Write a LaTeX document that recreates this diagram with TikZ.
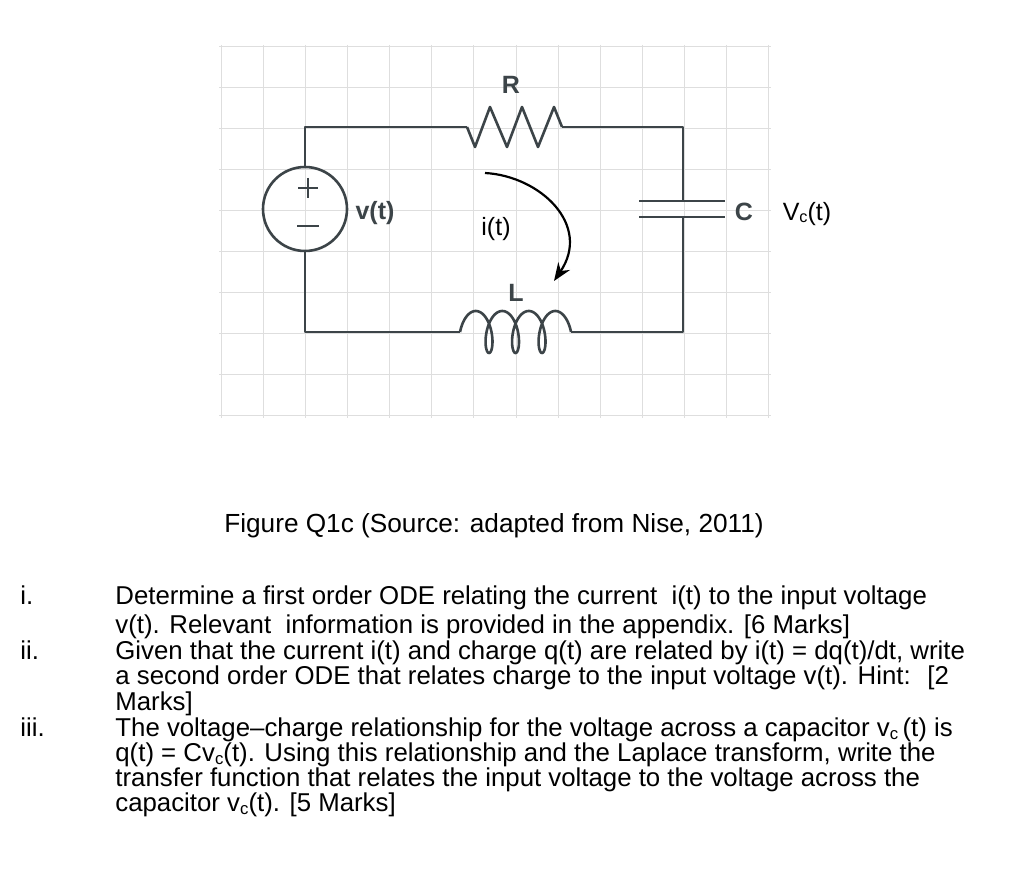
\documentclass[tikz,border=0pt]{standalone}
\usepackage{fontspec}
\setmainfont{Liberation Sans}
\usetikzlibrary{arrows.meta}
\definecolor{wire}{HTML}{3C4448}
\definecolor{gridc}{HTML}{DEDEDE}
\newcommand{\subc}{\raisebox{-0.15ex}{\scalebox{0.65}{c}}}
\begin{document}
\begin{tikzpicture}[x=0.5pt,y=-0.5pt,
  wirest/.style={draw=wire,line width=1.3pt,line join=round},
  body/.style={anchor=base west,inner sep=0pt,font=\fontsize{12.9}{14}\selectfont},
  clab/.style={inner sep=0pt,text=wire,font=\fontsize{12.5}{14}\selectfont}]
\useasboundingbox (0,0) rectangle (1024,892);
\fill[white] (0,0) rectangle (1024,892);
% grid
\foreach \k in {0,...,13} \draw[gridc,line width=0.5pt] ({221+42.15*\k},45) -- ({221+42.15*\k},418);
\foreach \k in {0,...,9} \draw[gridc,line width=0.5pt] (219,{47+41*\k}) -- (771,{47+41*\k});
% coordinates
\coordinate (tl) at (305,127);
\coordinate (tr) at (683,127);
\coordinate (bl) at (305,332);
\coordinate (br) at (683,332);
\coordinate (r1) at (467,127);
\coordinate (r2) at (562,127);
\coordinate (l1) at (460,332);
\coordinate (l2) at (571,332);
\coordinate (c1) at (683,201);
\coordinate (c2) at (683,217);
\node[circle,draw=wire,line width=1.3pt,minimum size=42pt,inner sep=0pt] (src) at (305,209) {};
% wires
\draw[wirest] (src.north) -- (tl) -- (r1);
\draw[wirest] (r1) -- (475,147) -- (490,107) -- (507,147) -- (522,107) -- (538,147) -- (554,107) -- (r2);
\draw[wirest] (r2) -- (tr) -- (c1);
\draw[wirest] (639,201) -- (725,201);
\draw[wirest] (639,217) -- (725,217);
\draw[wirest] (c2) -- (br) -- (l2);
\draw[wirest,smooth,samples=200,domain=pi/2:7.5*pi,variable=\t]
  plot ({462.5+4.22*\t-9.1*sin(\t r)},{332+21*cos(\t r)});
\draw[wirest] (l1) -- (bl) -- (src.south);
% plus minus
\draw[wirest] (298,188) -- (318,188);
\draw[wirest] (308,178) -- (308,198);
\draw[wirest] (297,226) -- (319,226);
% arrow
\coordinate (a1) at (485,173);
\coordinate (a2) at (554,281);
\draw[black,line width=1.1pt,-{Stealth[length=9pt,width=7pt]}] (a1) .. controls (540,176) and (592,225) .. (a2);
% labels
\node[clab,font=\fontsize{12.5}{14}\selectfont\bfseries] (lr) at (511,85) {R};
\node[clab,font=\fontsize{12.5}{14}\selectfont\bfseries] (lv) at (375,213) {v(t)};
\node[clab,text=black] (li) at (496,229) {i(t)};
\node[clab,font=\fontsize{12.5}{14}\selectfont\bfseries] (ll) at (516,293) {L};
\node[clab,font=\fontsize{12.5}{14}\selectfont\bfseries] (lc) at (744,212) {C};
\node[clab,text=black] (lvc) at (807,214) {V\subc(t)};
% caption
\node[inner sep=0pt,font=\fontsize{13.1}{15}\selectfont] (cap) at (494,526) {Figure Q1c (Source: adapted from Nise, 2011)};
% text
\node[body] (n1) at (20,605) {i.};
\node[body] (t1) at (115,605) {Determine a first order ODE relating the current \ i(t) to the input voltage};
\node[body] (t2) at (115,634) {v(t). Relevant \ information is provided in the appendix. [6 Marks]};
\node[body] (n2) at (20,660) {ii.};
\node[body] (t3) at (115,660) {Given that the current i(t) and charge q(t) are related by i(t) = dq(t)/dt, write};
\node[body] (t4) at (115,685) {a second order ODE that relates charge to the input voltage v(t). Hint: \ [2};
\node[body] (t5) at (115,711) {Marks]};
\node[body] (n3) at (20,737) {iii.};
\node[body] (t6) at (115,737) {The voltage--charge relationship for the voltage across a capacitor v\subc\,(t) is};
\node[body] (t7) at (115,762) {q(t) = Cv\subc(t). Using this relationship and the Laplace transform, write the};
\node[body] (t8) at (115,787) {transfer function that relates the input voltage to the voltage across the};
\node[body] (t9) at (115,812) {capacitor v\subc(t). [5 Marks]};
\end{tikzpicture}
\end{document}
